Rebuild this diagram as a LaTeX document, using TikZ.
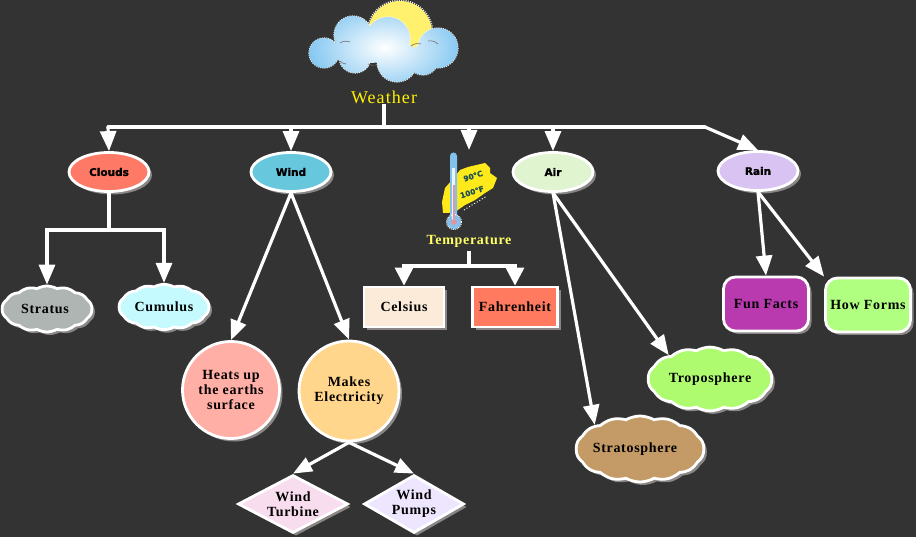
\documentclass[tikz,border=0pt]{standalone}
\usepackage{fontspec}
\setmainfont[LetterSpace=5]{Liberation Serif}
\newfontfamily\capfont[BoldFeatures={FakeBold=1.6}]{DejaVu Sans}
\usetikzlibrary{shapes.geometric,shapes.symbols,shadows,arrows.meta}
\definecolor{bgc}{HTML}{333333}
\definecolor{shc}{HTML}{8A8686}
\definecolor{yel}{HTML}{FFFF66}
\definecolor{skyblue}{RGB}{104,186,238}
\definecolor{thermo}{RGB}{130,195,238}
\definecolor{sunyel}{RGB}{255,240,110}
\definecolor{pinkish}{RGB}{225,150,165}
\tikzset{
  x=1pt,y=-1pt,
  base/.style={draw=white,line width=2.8pt,text=black,inner sep=0pt,align=center,
    font=\fontsize{14}{15}\selectfont\bfseries,
    drop shadow={shadow xshift=3pt,shadow yshift=-3pt,fill=shc,opacity=1}},
  topic/.style={base,ellipse,minimum width=80pt,minimum height=39pt,font=\capfont\fontsize{10.5}{12}\selectfont\bfseries},
  puff/.style={base,cloud,cloud puffs=14,cloud puff arc=60,aspect=2},
  box/.style={base,rectangle},
  rbox/.style={base,rectangle,rounded corners=12pt},
  disc/.style={base,circle},
  gem/.style={base,diamond,aspect=1.85},
  link/.style={draw=white,line width=3.2pt},
  arrow/.style={link,-{Triangle[width=16pt,length=20pt]}},
  widearrow/.style={link,-{Triangle[width=18pt,length=18pt]}},
  smallarrow/.style={link,-{Triangle[width=15pt,length=19pt]}},
}
\begin{document}
\begin{tikzpicture}
\useasboundingbox (0,0) rectangle (916,537);
\fill[bgc] (0,0) rectangle (916,537);

% weather picture
\draw[white!85!gray,line width=3pt,dash pattern=on 1pt off 1.2pt] (400,33) circle (32);
\fill[sunyel] (400,33) circle (32);
\draw[white,line width=1.2pt,densely dotted]
  (324,53) circle (15) (353,35) circle (19) (388,39) circle (22)
  (438,48) circle (20) (355,57) circle (16) (397,62) circle (20) (423,60) circle (15);
\begin{scope}
\clip (324,53) circle (15) (353,35) circle (19) (388,39) circle (22)
      (438,48) circle (20) (355,57) circle (16) (397,62) circle (20) (423,60) circle (15)
      (345,50) circle (12) (372,45) circle (18) (405,56) circle (12);
\shade[inner color=white,outer color=skyblue] (290,-10) rectangle (480,105);
\end{scope}
\draw[bgc!70!white,line width=.6pt] (340,43) to[bend left=25] (350,42)
  (411,46) to[bend left=25] (421,44) (428,41) to[bend left=25] (438,44)
  (340,61) to[bend right=20] (346,64) (368,64) to[bend right=20] (376,65);
\node[text=yellow,font=\fontsize{18}{20}\selectfont] (weather) at (384,97) {\addfontfeature{LetterSpace=6}Weather};

% thermometer
\fill[yellow!90!orange!90!white] (442,202) -- (445,188) -- (452,180) -- (460,170) -- (468,167) -- (485,163) -- (490,168) -- (490,173) -- (497,178) -- (493,188) -- (485,193) -- (475,200) -- (465,205) -- (455,212) -- (448,213) -- (443,213) -- cycle;
\draw[white,line width=1pt,dotted] (464,210) -- (472,205) -- (487,196);
\node[rotate=18,text=bgc!60!teal,font=\capfont\fontsize{7.5}{8}\selectfont\bfseries] (degc) at (473,176) {90°C};
\node[rotate=18,text=bgc!60!teal,font=\capfont\fontsize{7.5}{8}\selectfont\bfseries] (degf) at (472,192) {100°F};
\fill[thermo] (450,156) arc (180:360:3.5) -- (457,217) -- (450,217) -- cycle;
\fill[thermo] (454,222) circle (7);
\draw[white,line width=1pt,densely dotted] (454,222) circle (7.5);
\fill[white!90!gray] (452.3,168) rectangle (455.2,222);
\fill[pinkish] (453,185) rectangle (454.6,222);
\fill[pinkish] (454,222) circle (3);
\node[text=yel,font=\fontsize{14}{15}\selectfont\bfseries] (temp) at (469,241) {Temperature};
\coordinate (tempanchor) at (469,150);

% topic ellipses
\node[topic,fill={rgb,255:red,255;green,122;blue,102}] (clouds) at (109,172) {Clouds};
\node[topic,fill={rgb,255:red,102;green,199;blue,221}] (wind) at (291,172) {Wind};
\node[topic,fill={rgb,255:red,224;green,244;blue,208}] (air) at (553,172) {Air};
\node[topic,fill={rgb,255:red,217;green,195;blue,242}] (rain) at (758,171) {Rain};

% leaves
\node[puff,fill={rgb,255:red,174;green,181;blue,178},minimum width=90pt,minimum height=46pt] (stratus) at (47,309) {\makebox[0pt]{Stratus\hspace{4pt}}};
\node[puff,fill={rgb,255:red,197;green,251;blue,255},minimum width=90pt,minimum height=41pt] (cumulus) at (164,307) {Cumulus};
\node[box,fill={rgb,255:red,252;green,235;blue,216},minimum width=80pt,minimum height=40pt] (celsius) at (404,307) {Celsius};
\node[box,fill={rgb,255:red,255;green,122;blue,94},minimum width=85pt,minimum height=40pt] (fahrenheit) at (515,307) {Fahrenheit};
\node[disc,fill={rgb,255:red,255;green,175;blue,165},minimum size=97pt] (heats) at (231,390) {Heats up\\the earths\\surface};
\node[disc,fill={rgb,255:red,255;green,214;blue,140},minimum size=100pt] (makes) at (349,391) {Makes\\Electricity};
\node[gem,fill={rgb,255:red,248;green,221;blue,239},minimum width=110pt,minimum height=58pt] (turbine) at (293,504) {Wind\\Turbine};
\node[gem,fill={rgb,255:red,238;green,230;blue,255},minimum width=100pt,minimum height=58pt] (pumps) at (414,504) {Wind\\Pumps};
\node[puff,fill={rgb,255:red,174;green,251;blue,112},minimum width=124pt,minimum height=57pt] (tropo) at (710,379) {Troposphere};
\node[puff,fill={rgb,255:red,196;green,154;blue,102},minimum width=128pt,minimum height=66pt] (strato) at (640,449) {\makebox[0pt]{Stratosphere\hspace{10pt}}};
\node[rbox,fill={rgb,255:red,184;green,58;blue,174},minimum width=85pt,minimum height=54pt] (funfacts) at (766,304) {Fun Facts};
\node[rbox,fill={rgb,255:red,176;green,255;blue,128},minimum width=85pt,minimum height=54pt] (howforms) at (868,305) {How Forms};

% top bus
\coordinate (busw) at (384,127);
\coordinate (bend) at (705,127);
\coordinate (busl) at (108,127);
\coordinate (bwind) at (291,127);
\coordinate (btemp) at (469,127);
\coordinate (bair) at (553,127);
\draw[link] (weather.south) ++(0,-3) -- (busw);
\draw[link,line cap=round] (busl) -- (bend);
\draw[arrow] (busl) -- (clouds.north);
\draw[arrow] (bwind) -- (wind.north);
\draw[arrow] (btemp) -- (tempanchor);
\draw[arrow] (bair) -- (air.north);
\draw[arrow] (bend) -- (rain.north);

% clouds
\coordinate (cj) at (109,230);
\draw[link] (clouds.south) -- (cj);
\draw[arrow] (cj) -| (stratus.north);
\draw[arrow] (cj) -| (cumulus.north);

% wind
\draw[arrow] (wind.south) -- (heats.north);
\draw[arrow] (wind.south) -- (makes.north);
\draw[smallarrow] (makes.south) -- (turbine.north);
\draw[smallarrow] (makes.south) -- (pumps.north);

% temperature
\coordinate (tj) at (469,266);
\draw[link] (temp.south) -- (tj);
\draw[widearrow] (tj) -| (celsius.north);
\draw[widearrow] (tj) -| (fahrenheit.north);

% air
\draw[arrow] (air.south) -- (strato.152);
\draw[arrow] (air.south) -- (tropo.150);

% rain
\draw[arrow] (rain.south) -- (funfacts.north);
\draw[arrow] (rain.south) -- (howforms.north west);
\end{tikzpicture}
\end{document}
